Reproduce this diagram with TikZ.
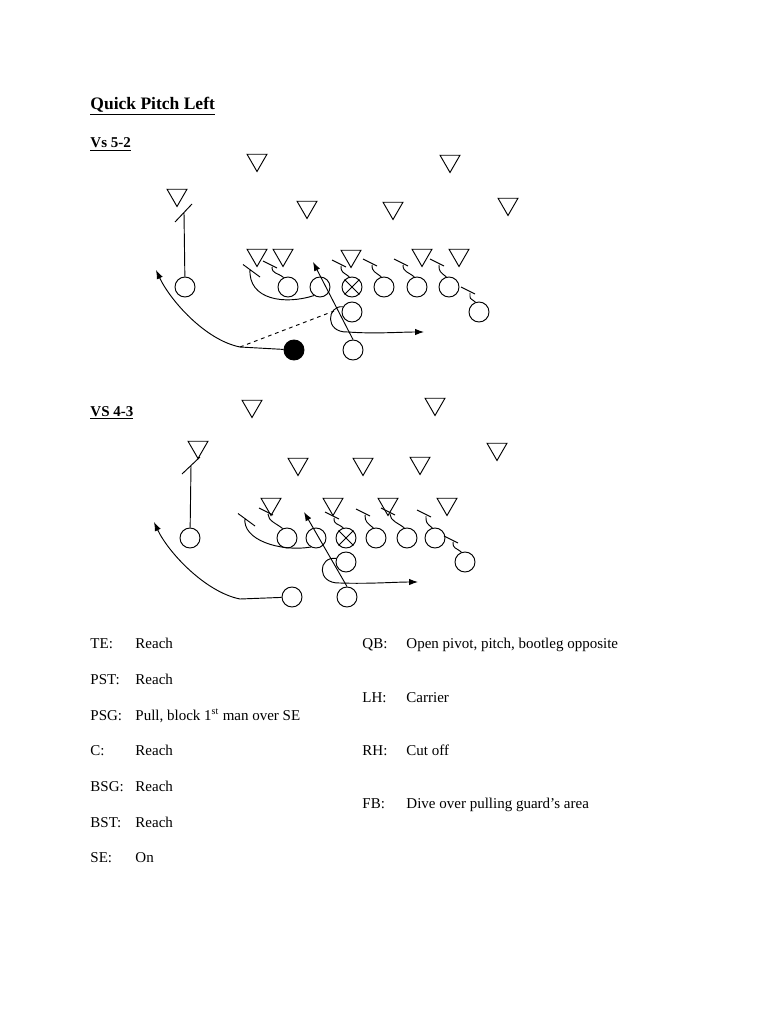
\documentclass[tikz,border=0pt]{standalone}
\usepackage{fontspec}
\setmainfont{Liberation Serif}
\usetikzlibrary{arrows.meta,shapes.geometric}

\begin{document}
\begin{tikzpicture}[
  x=0.8pt,y=0.8pt,
  font=\fontsize{12}{14}\selectfont,
  >={Latex[length=2.5mm,width=1.8mm]},
  line width=0.75pt,
  man/.style={circle,draw,minimum size=16pt,inner sep=0pt},
  ball/.style={man,fill=black},
  def/.style={regular polygon,regular polygon sides=3,shape border rotate=180,draw,minimum size=18.4pt,inner sep=0pt},
  txt/.style={anchor=base west,inner sep=0pt},
  head/.style={txt,font=\fontsize{12}{14}\selectfont\bfseries},
  run/.style={->}
]
\useasboundingbox (0,0) rectangle (768,-1024);

\node[head,font=\fontsize{14}{17}\selectfont\bfseries] (title) at (90,-110) {\underline{Quick Pitch Left}};

\node[head] (vs52) at (90,-148) {\underline{Vs 5-2}};
\node[def] (lsf1) at (257,-160) {};
\node[def] (rsf1) at (450,-161) {};
\node[def] (lcb1) at (177,-195) {};
\node[def] (llb1) at (307,-207) {};
\node[def] (rlb1) at (393,-208) {};
\node[def] (rcb1) at (508,-204) {};
\node[def] (dle1) at (257,-255) {};
\node[def] (dlt1) at (283,-255) {};
\node[def] (ng1) at (351,-256) {};
\node[def] (drt1) at (422,-255) {};
\node[def] (dre1) at (459,-255) {};
\node[man] (se1) at (185,-287) {};
\node[man] (pst1) at (288,-287) {};
\node[man] (psg1) at (320,-287) {};
\node[man] (c1) at (352,-287) {};
\node[man] (bsg1) at (384,-287) {};
\node[man] (bst1) at (417,-287) {};
\node[man] (te1) at (449,-287) {};
\node[man] (rh1) at (479,-312) {};
\node[man] (qb1) at (352,-312) {};
\node[ball] (lh1) at (294,-350) {};
\node[man] (fb1) at (353,-350) {};
\draw (c1.45) -- (c1.225) (c1.135) -- (c1.315);
\coordinate (se1blk) at (184,-213);
\coordinate (psg1blk) at (250,-269);
\coordinate (lh1bend) at (240,-347);
\coordinate (lh1end) at (156,-270);
\coordinate (fb1end) at (313,-262);
\coordinate (qb1end) at (424,-332);
\coordinate (pitch1) at (334,-311);
\draw (se1) -- (se1blk) ++(-9,-9) -- ++(17,18);
\draw (pst1.115) .. controls +(-6,5) and +(0,-7) .. (272,-267) ++(-9,6) -- ++(14,-7);
\draw (c1.105) .. controls +(-6,5) and +(0,-7) .. (341,-266) ++(-9,6) -- ++(14,-7);
\draw (bsg1.105) .. controls +(-6,5) and +(0,-7) .. (372,-265) ++(-9,6) -- ++(14,-7);
\draw (bst1.105) .. controls +(-6,5) and +(0,-7) .. (403,-265) ++(-9,6) -- ++(14,-7);
\draw (te1.105) .. controls +(-6,5) and +(0,-7) .. (439,-265) ++(-9,6) -- ++(14,-7);
\draw (rh1.110) .. controls +(-6,5) and +(0,-7) .. (470,-293) ++(-9,6) -- ++(14,-7);
\draw (psg1.235) .. controls (285,-305) and (248,-300) .. (psg1blk) ++(-7,4.5) -- ++(17,-12.5);
\draw[run] (lh1) -- (lh1bend) .. controls (205,-340) and (170,-300) .. (lh1end);
\draw[dashed] (lh1bend) -- (pitch1);
\draw[run] (fb1.north) -- (fb1end);
\draw[run] (qb1.150) .. controls (327,-305) and (324,-333) .. (348,-332) .. controls (375,-334) and (400,-332) .. (qb1end);

\node[head] (vs43) at (90,-416) {\underline{VS 4-3}};
\node[def] (lsf2) at (252,-406) {};
\node[def] (rsf2) at (435,-404) {};
\node[def] (lcb2) at (198,-447) {};
\node[def] (rcb2) at (497,-449) {};
\node[def] (llb2) at (298,-464) {};
\node[def] (mlb2) at (363,-464) {};
\node[def] (rlb2) at (420,-463) {};
\node[def] (dle2) at (271,-504) {};
\node[def] (dlt2) at (333,-504) {};
\node[def] (drt2) at (388,-504) {};
\node[def] (dre2) at (447,-504) {};
\node[man] (se2) at (190,-538) {};
\node[man] (pst2) at (287,-538) {};
\node[man] (psg2) at (316,-538) {};
\node[man] (c2) at (346,-538) {};
\node[man] (bsg2) at (376,-538) {};
\node[man] (bst2) at (407,-538) {};
\node[man] (te2) at (435,-538) {};
\node[man] (rh2) at (465,-562) {};
\node[man] (qb2) at (346,-562) {};
\node[man] (lh2) at (292,-597) {};
\node[man] (fb2) at (347,-597) {};
\draw (c2.45) -- (c2.225) (c2.135) -- (c2.315);
\coordinate (se2blk) at (191,-466);
\coordinate (psg2blk) at (245,-518);
\coordinate (lh2bend) at (240,-599);
\coordinate (lh2end) at (154,-522);
\coordinate (fb2end) at (304,-512);
\coordinate (qb2end) at (418,-582);
\draw (se2) -- (se2blk) ++(-9,-8) -- ++(18,17);
\draw (pst2.115) .. controls +(-6,5) and +(0,-7) .. (268,-514) ++(-9,6) -- ++(14,-7);
\draw (c2.105) .. controls +(-6,5) and +(0,-7) .. (334,-518) ++(-9,6) -- ++(14,-7);
\draw (bsg2.105) .. controls +(-6,5) and +(0,-7) .. (365,-515) ++(-9,6) -- ++(14,-7);
\draw (bst2.105) .. controls +(-6,5) and +(0,-7) .. (390,-514) ++(-9,6) -- ++(14,-7);
\draw (te2.105) .. controls +(-6,5) and +(0,-7) .. (426,-516) ++(-9,6) -- ++(14,-7);
\draw (rh2.110) .. controls +(-6,5) and +(0,-7) .. (453,-542) ++(-9,6) -- ++(14,-7);
\draw (psg2.240) .. controls (280,-552) and (242,-540) .. (psg2blk) ++(-7,4.5) -- ++(17,-12.5);
\draw[run] (lh2) -- (lh2bend) .. controls (205,-592) and (168,-552) .. (lh2end);
\draw[run] (fb2.north) -- (fb2end);
\draw[run] (qb2.160) .. controls (318,-556) and (316,-584) .. (340,-583) .. controls (370,-584) and (395,-582) .. (qb2end);

\node[txt] (kte) at (90,-648) {TE:};
\node[txt] (vte) at (135,-648) {Reach};
\node[txt] (kpst) at (90,-684) {PST:};
\node[txt] (vpst) at (135,-684) {Reach};
\node[txt] (kpsg) at (90,-720) {PSG:};
\node[txt] (vpsg) at (135,-720) {Pull, block 1\textsuperscript{st} man over SE};
\node[txt] (kc) at (90,-755) {C:};
\node[txt] (vc) at (135,-755) {Reach};
\node[txt] (kbsg) at (90,-791) {BSG:};
\node[txt] (vbsg) at (135,-791) {Reach};
\node[txt] (kbst) at (90,-827) {BST:};
\node[txt] (vbst) at (135,-827) {Reach};
\node[txt] (kse) at (90,-862) {SE:};
\node[txt] (vse) at (135,-862) {On};
\node[txt] (kqb) at (362,-648) {QB:};
\node[txt] (vqb) at (406,-648) {Open pivot, pitch, bootleg opposite};
\node[txt] (klh) at (362,-702) {LH:};
\node[txt] (vlh) at (406,-702) {Carrier};
\node[txt] (krh) at (362,-755) {RH:};
\node[txt] (vrh) at (406,-755) {Cut off};
\node[txt] (kfb) at (362,-808) {FB:};
\node[txt] (vfb) at (406,-808) {Dive over pulling guard's area};
\end{tikzpicture}
\end{document}
